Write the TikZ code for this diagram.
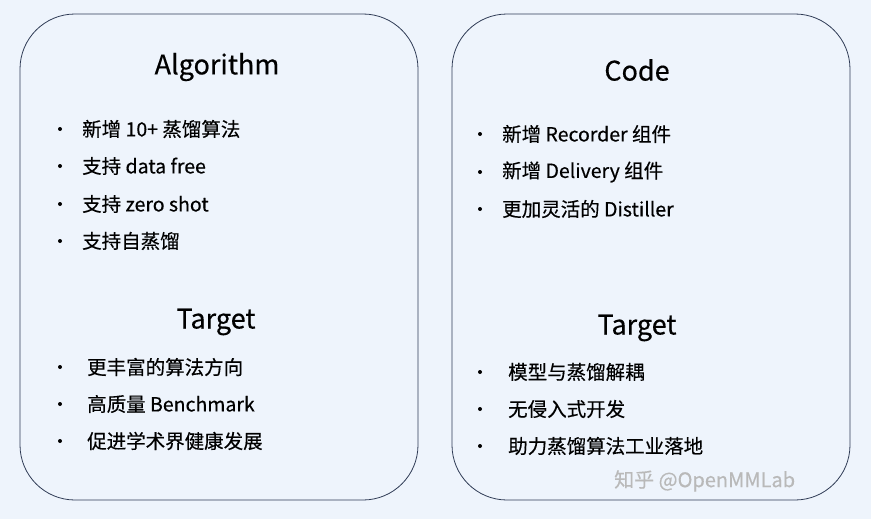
\documentclass[tikz,border=0pt]{standalone}
\usepackage{fontspec}
\setmainfont{Noto Sans CJK SC}[FakeBold=0.4]
\definecolor{bg}{HTML}{EEF4FC}
\definecolor{edge}{HTML}{2F3B55}
\begin{document}
\begin{tikzpicture}[x=1pt,y=-1pt,
  panel/.style={draw=edge,line width=0.8pt,rounded corners=55pt},
  ttl/.style={font=\fontsize{27}{30}\selectfont,anchor=center},
  itm/.style={font=\fontsize{19.5}{22}\selectfont,anchor=west,inner sep=0pt},
  bul/.style={circle,fill=black,inner sep=0pt,minimum size=4pt}]
\fill[bg] (0,0) rectangle (871,519);
\useasboundingbox (0,0) rectangle (871,519);
\draw[panel] (20,14) rectangle (418,500);
\draw[panel] (452,14) rectangle (850,500);
\node[ttl] (t1) at (217,67) {Algorithm};
\foreach \y/\t [count=\i] in {129/新增 10+ 蒸馏算法,166/支持 data free,204/支持 zero shot,241/支持自蒸馏}{
  \node[bul] (lb\i) at (60,\y) {}; \node[itm] (l\i) at (82,\y) {\t};}
\node[ttl] (t2) at (216,322) {Target};
\foreach \y/\t [count=\i] in {367/更丰富的算法方向,404/高质量 Benchmark,441/促进学术界健康发展}{
  \node[bul] (mb\i) at (60,\y) {}; \node[itm] (m\i) at (87,\y) {\t};}
\node[ttl] (t3) at (637,70) {Code};
\foreach \y/\t [count=\i] in {134/新增 Recorder 组件,172/新增 Delivery 组件,209/更加灵活的 Distiller}{
  \node[bul] (rb\i) at (480,\y) {}; \node[itm] (r\i) at (502,\y) {\t};}
\node[ttl] (t4) at (637,328) {Target};
\foreach \y/\t [count=\i] in {372/模型与蒸馏解耦,409/无侵入式开发,446/助力蒸馏算法工业落地}{
  \node[bul] (sb\i) at (480,\y) {}; \node[itm] (s\i) at (508,\y) {\t};}
\node[itm,text=white!45!gray,font=\fontsize{20}{22}\selectfont] (wm) at (614,481) {知乎 @OpenMMLab};
\end{tikzpicture}
\end{document}
